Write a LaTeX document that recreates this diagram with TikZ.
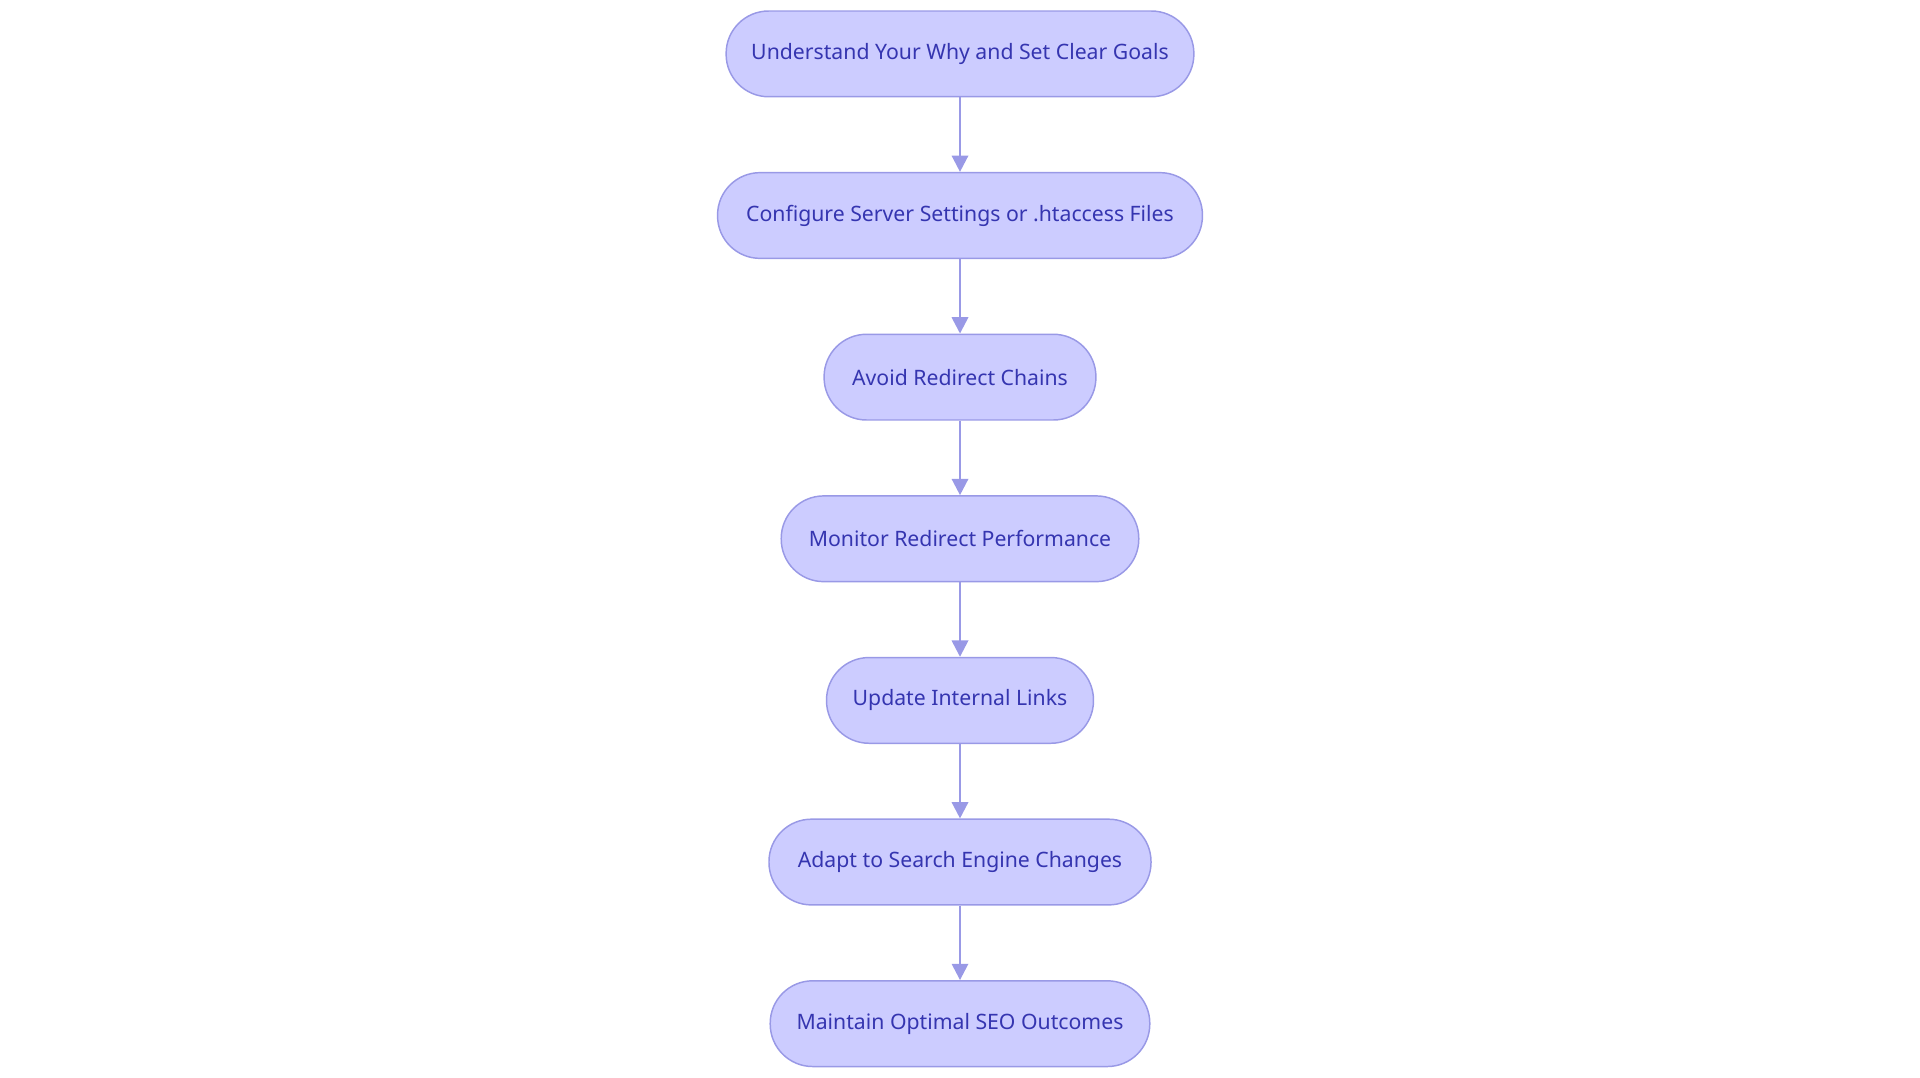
\documentclass[tikz,border=0pt]{standalone}
\usepackage{fontspec}
\setmainfont{Noto Sans}
\usetikzlibrary{arrows.meta}
\definecolor{nfill}{HTML}{CCCCFF}
\definecolor{nline}{HTML}{9999E6}
\definecolor{ntext}{HTML}{3535B0}
\begin{document}
\begin{tikzpicture}[x=0.75pt,y=-0.75pt,
  box/.style={draw=nline,fill=nfill,line width=0.9pt,rounded corners=26pt,minimum height=52.5pt,text=ntext,font=\fontsize{13}{15}\selectfont,inner sep=0pt},
  arr/.style={draw=nline,line width=1.5pt,-{Triangle[length=10pt,width=10pt]}}]
\useasboundingbox (0,0) rectangle (1568,880);
\node[box,minimum width=286.5pt] (a) at (784,44) {Understand Your Why and Set Clear Goals};
\node[box,minimum width=297pt] (b) at (784,176) {Configure Server Settings or .htaccess Files};
\node[box,minimum width=166.5pt] (c) at (784,308) {Avoid Redirect Chains};
\node[box,minimum width=219pt] (d) at (784,440) {Monitor Redirect Performance};
\node[box,minimum width=163.5pt] (e) at (784,572) {Update Internal Links};
\node[box,minimum width=234pt] (f) at (784,704) {Adapt to Search Engine Changes};
\node[box,minimum width=232.5pt] (g) at (784,836) {Maintain Optimal SEO Outcomes};
\foreach \s/\t in {a/b,b/c,c/d,d/e,e/f,f/g} \draw[arr] (\s) -- (\t);
\end{tikzpicture}
\end{document}
